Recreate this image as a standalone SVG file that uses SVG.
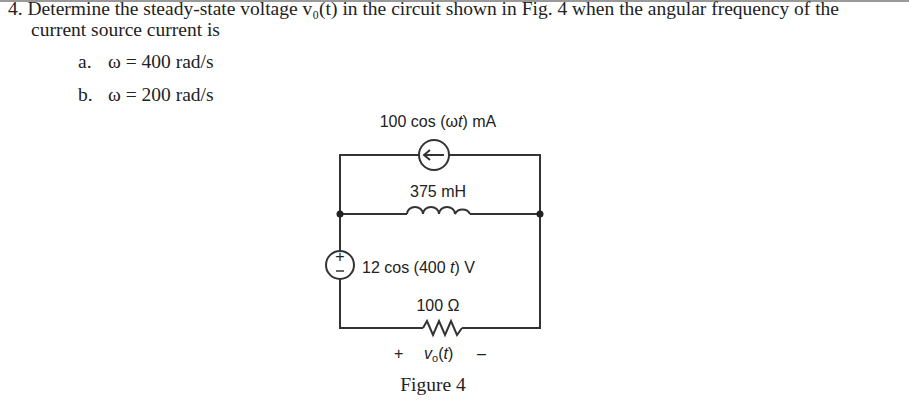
<svg xmlns="http://www.w3.org/2000/svg" width="909" height="400" viewBox="0 0 909 400">
<style>
.t{font-family:"Liberation Serif",serif;font-size:19.5px;fill:#222}
.c{font-family:"Liberation Sans",Arial,sans-serif;font-size:16px;fill:#222}
.w{fill:none;stroke:#333;stroke-width:2}
</style>
<rect width="909" height="400" fill="#fff"/>
<line x1="0" y1="1" x2="909" y2="1" stroke="#999" stroke-width="2"/>
<text class="t" x="8" y="15">4. Determine the steady-state voltage v₀(t) in the circuit shown in Fig. 4 when the angular frequency of the</text>
<text class="t" x="31" y="36">current source current is</text>
<text class="t" x="78" y="68">a.</text><text class="t" x="108" y="68">ω = 400 rad/s</text>
<text class="t" x="78" y="101">b.</text><text class="t" x="108" y="101">ω = 200 rad/s</text>
<g id="wires" class="w">
<path d="M419,155 H340 V251 M340,279 V328 H423 M462,328 H540 V155 H449"/>
<path d="M340,214 H407 M470,214 H540"/>
</g>
<g id="isrc"><circle cx="434" cy="155" r="15" fill="#fff" stroke="#333" stroke-width="2"/><path d="M444,155 H424 M430,150 L424,155 L430,160" class="w"/></g>
<g id="ind"><path class="w" d="M407,214 a8,7 0 0 1 16,0 a8,7 0 0 1 16,0 a8,7 0 0 1 16,0 a8,7 0 0 1 15,0"/></g>
<g id="nodes"><circle cx="340" cy="214" r="3.5" fill="#222"/><circle cx="540" cy="214" r="3.5" fill="#222"/></g>
<g id="vsrc"><circle cx="340" cy="265" r="14" fill="#fff" stroke="#333" stroke-width="2"/><text class="c" x="340" y="262" text-anchor="middle" font-size="11">+</text><line x1="336" y1="271" x2="344" y2="271" stroke="#333" stroke-width="1.5"/></g>
<g id="res"><path class="w" d="M423,328 l4,-7 l6,14 l6,-14 l6,14 l6,-14 l6,14 l5,-7"/></g>
<g id="labels">
<text class="c" x="438" y="127" text-anchor="middle">100 cos (ω<tspan font-style="italic">t</tspan>) mA</text>
<text class="c" x="438" y="197" text-anchor="middle">375 mH</text>
<text class="c" x="362" y="273">12 cos (400 <tspan font-style="italic">t</tspan>) V</text>
<text class="c" x="438" y="311" text-anchor="middle">100 Ω</text>
<text class="c" x="394" y="359">+</text>
<text class="c" x="424" y="359"><tspan font-style="italic">v</tspan><tspan font-size="11" dy="3">o</tspan><tspan dy="-3">(</tspan><tspan font-style="italic">t</tspan>)</text>
<text class="c" x="477" y="359">–</text>
<text class="t" x="433" y="391" text-anchor="middle">Figure 4</text>
</g>
</svg>
